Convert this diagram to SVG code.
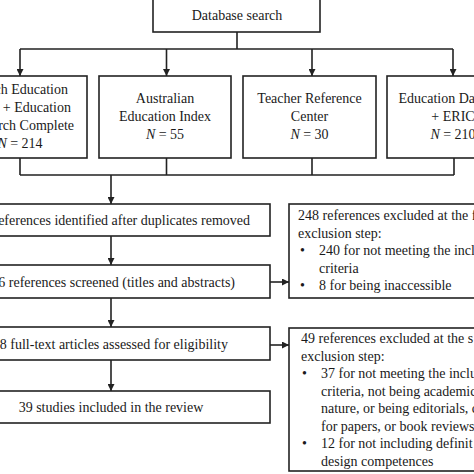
<svg xmlns="http://www.w3.org/2000/svg" width="474" height="474" viewBox="0 0 474 474">
<defs>
<style>
.box{fill:#fff;stroke:#222;stroke-width:1.6}
.ln{fill:none;stroke:#222;stroke-width:1.6}
text{font-family:"Liberation Serif","Times New Roman",serif;font-size:14px;fill:#1a1a1a}
.c{text-anchor:middle}
.e{text-anchor:end}
.i{font-style:italic}
</style>
<marker id="ah" viewBox="0 0 10 10" refX="10" refY="5" markerWidth="7" markerHeight="7" markerUnits="userSpaceOnUse" orient="auto">
<path d="M0,0 L10,5 L0,10 z" fill="#222"/>
</marker>
</defs>
<rect width="474" height="474" fill="#fff"/>
<g id="connectors">
<path class="ln" d="M237,32 V49 M20,49 H453"/>
<path class="ln" d="M20,49 V76" marker-end="url(#ah)"/>
<path class="ln" d="M166.5,49 V76" marker-end="url(#ah)"/>
<path class="ln" d="M312,49 V76" marker-end="url(#ah)"/>
<path class="ln" d="M453,49 V76" marker-end="url(#ah)"/>
<path class="ln" d="M20,158 V175 M166.5,158 V175 M312,158 V175 M454,158 V175 M20,175 H454"/>
<path class="ln" d="M111,175 V204" marker-end="url(#ah)"/>
<path class="ln" d="M111,236 V265" marker-end="url(#ah)"/>
<path class="ln" d="M111,298 V327" marker-end="url(#ah)"/>
<path class="ln" d="M111,360 V391" marker-end="url(#ah)"/>
<path class="ln" d="M270,282 H289" marker-end="url(#ah)"/>
<path class="ln" d="M270,345 H289" marker-end="url(#ah)"/>
</g>
<g id="database-search">
<rect class="box" x="153" y="-10" width="167" height="42"/>
<text class="c" x="237" y="20">Database search</text>
</g>
<g id="db1">
<rect class="box" x="-46" y="76" width="133" height="82"/>
<text class="e" x="68" y="94">ch Education</text>
<text class="e" x="71" y="112">+ Education</text>
<text class="e" x="74" y="130">rch Complete</text>
<text class="c" x="20" y="148"><tspan class="i">N</tspan> = 214</text>
</g>
<g id="db2">
<rect class="box" x="99" y="76" width="132" height="82"/>
<text class="c" x="165" y="103">Australian</text>
<text class="c" x="165" y="121">Education Index</text>
<text class="c" x="165" y="139"><tspan class="i">N</tspan> = 55</text>
</g>
<g id="db3">
<rect class="box" x="243" y="76" width="133" height="82"/>
<text class="c" x="309.5" y="103">Teacher Reference</text>
<text class="c" x="309.5" y="121">Center</text>
<text class="c" x="309.5" y="139"><tspan class="i">N</tspan> = 30</text>
</g>
<g id="db4">
<rect class="box" x="387" y="76" width="133" height="82"/>
<text x="398.5" y="103">Education Da</text>
<text class="c" x="453" y="121">+ ERIC</text>
<text class="c" x="453" y="139"><tspan class="i">N</tspan> = 210</text>
</g>
<g id="identified">
<rect class="box" x="-50" y="204" width="320" height="32"/>
<text class="e" x="250" y="225">eferences identified after duplicates removed</text>
</g>
<g id="screened">
<rect class="box" x="-50" y="265" width="320" height="33"/>
<text class="e" x="235" y="287">6 references screened (titles and abstracts)</text>
</g>
<g id="fulltext">
<rect class="box" x="-50" y="327" width="320" height="33"/>
<text class="e" x="228" y="348.5">8 full-text articles assessed for eligibility</text>
</g>
<g id="included">
<rect class="box" x="-50" y="391" width="320" height="32"/>
<text class="c" x="111" y="412">39 studies included in the review</text>
</g>
<g id="excluded1">
<rect class="box" x="289" y="204" width="200" height="94"/>
<text x="298" y="220">248 references excluded at the f</text>
<text x="298" y="237.5">exclusion step:</text>
<text x="300" y="255">•</text>
<text x="319" y="255">240 for not meeting the incl</text>
<text x="319" y="272.5">criteria</text>
<text x="300" y="290">•</text>
<text x="319" y="290">8 for being inaccessible</text>
</g>
<g id="excluded2">
<rect class="box" x="289" y="328" width="200" height="143"/>
<text x="301" y="343">49 references excluded at the s</text>
<text x="301" y="360.5">exclusion step:</text>
<text x="302" y="378">•</text>
<text x="321" y="378">37 for not meeting the inclu</text>
<text x="321" y="395.5">criteria, not being academic</text>
<text x="321" y="413">nature, or being editorials, c</text>
<text x="321" y="430.5">for papers, or book reviews</text>
<text x="302" y="448">•</text>
<text x="321" y="448">12 for not including definit</text>
<text x="321" y="465.5">design competences</text>
</g>
</svg>
